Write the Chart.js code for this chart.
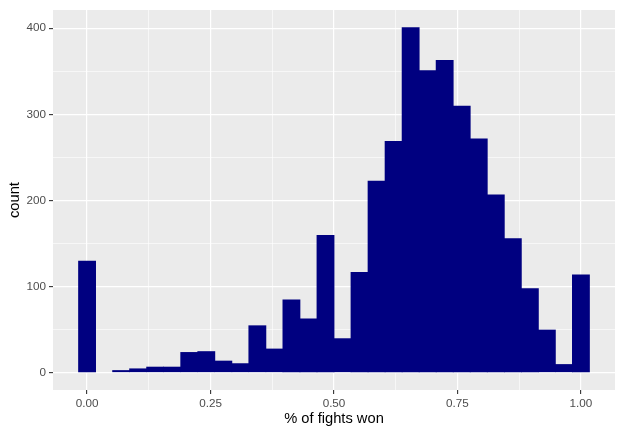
<!DOCTYPE html>
<html>
<head>
<meta charset="utf-8">
<script src="https://cdn.jsdelivr.net/npm/chart.js@4.4.1/dist/chart.umd.min.js"></script>
<style>
  body { margin: 0; background: #fff; }
  #wrap { width: 623px; height: 435px; }
</style>
</head>
<body>
<div id="wrap"><canvas id="hist" width="623" height="435"></canvas></div>
<script>
// histogram bins (30 bins, centres on % of fights won)
const binCenters = [0.0000, 0.0345, 0.0690, 0.1034, 0.1379, 0.1724, 0.2069, 0.2414, 0.2759, 0.3103,
                    0.3448, 0.3793, 0.4138, 0.4483, 0.4828, 0.5172, 0.5517, 0.5862, 0.6207, 0.6552,
                    0.6897, 0.7241, 0.7586, 0.7931, 0.8276, 0.8621, 0.8966, 0.9310, 0.9655, 1.0000];
const counts = [130, 0, 3, 5, 7, 7, 24, 25, 14, 11,
                55, 28, 85, 63, 160, 40, 117, 223, 269, 401,
                351, 363, 310, 272, 207, 156, 98, 50, 10, 114];

const xMajor = [0, 0.25, 0.5, 0.75, 1];
const xMinor = [0.125, 0.375, 0.625, 0.875];
const yMajor = [0, 100, 200, 300, 400];
const yMinor = [50, 150, 250, 350];

const xRange = [-0.069, 1.069];
const yRange = [-20.05, 421.05];

const FONT = "'Liberation Sans', Arial, sans-serif";

// grey panel like ggplot's theme_gray
const panelBg = {
  id: "panelBg",
  beforeDraw(chart) {
    const { ctx, chartArea: a } = chart;
    ctx.save();
    ctx.fillStyle = "#fff";
    ctx.fillRect(0, 0, chart.width, chart.height);
    ctx.fillStyle = "#EBEBEB";
    ctx.fillRect(a.left, a.top, a.right - a.left, a.bottom - a.top);
    ctx.restore();
  }
};

function gridOpts(minor) {
  return {
    color: "#FFFFFF",
    lineWidth: c => (minor.includes(c.tick.value) ? 0.6 : 1.2),
    tickColor: c => (minor.includes(c.tick.value) ? "rgba(0,0,0,0)" : "#333333"),
    tickWidth: 1.1,
    tickLength: 4,
    offset: false
  };
}

new Chart(document.getElementById("hist"), {
  type: "bar",
  data: {
    datasets: [{
      data: counts.map((c, i) => ({ x: binCenters[i], y: c })),
      backgroundColor: "#000080",
      borderWidth: 0,
      barPercentage: 1.05,
      categoryPercentage: 1
    }]
  },
  options: {
    responsive: false,
    animation: false,
    layout: { padding: { top: 7, right: 8, left: 0, bottom: 0 } },
    plugins: { legend: { display: false }, tooltip: { enabled: false } },
    scales: {
      x: {
        type: "linear",
        min: xRange[0],
        max: xRange[1],
        offset: false,
        border: { display: false },
        grid: gridOpts(xMinor),
        afterBuildTicks: s => { s.ticks = [...xMajor, ...xMinor].sort((a, b) => a - b).map(v => ({ value: v })); },
        afterFit: s => { s.height = 45; },
        ticks: {
          autoSkip: false,
          maxRotation: 0,
          padding: 3,
          color: "#4D4D4D",
          font: { family: FONT, size: 11.7 },
          callback: v => (xMajor.includes(v) ? v.toFixed(2) : "")
        },
        title: {
          display: true,
          text: "% of fights won",
          color: "#000",
          font: { family: FONT, size: 14.7 },
          padding: { top: 0, bottom: 7 }
        }
      },
      y: {
        min: yRange[0],
        max: yRange[1],
        border: { display: false },
        grid: gridOpts(yMinor),
        afterBuildTicks: s => { s.ticks = [...yMajor, ...yMinor].sort((a, b) => a - b).map(v => ({ value: v })); },
        afterFit: s => { s.width = 53; },
        ticks: {
          autoSkip: false,
          padding: 3,
          color: "#4D4D4D",
          font: { family: FONT, size: 11.7 },
          callback: v => (yMajor.includes(v) ? String(v) : "")
        },
        title: {
          display: true,
          text: "count",
          color: "#000",
          font: { family: FONT, size: 14.7 },
          padding: { top: 6, bottom: 0 }
        }
      }
    }
  },
  plugins: [panelBg]
});
</script>
</body>
</html>
